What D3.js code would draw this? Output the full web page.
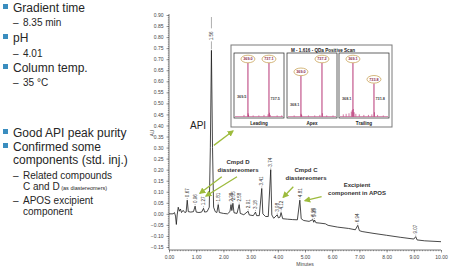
<!DOCTYPE html>
<html lang="en">
<head>
<meta charset="utf-8">
<title>Chromatogram with QDa inset</title>
<script src="https://d3js.org/d3.v7.min.js"></script>
<style>
  body { margin: 0; background: #fff; }
  svg { display: block; font-family: "Liberation Sans", Arial, sans-serif; }
</style>
</head>
<body>
<script>
// ---- data ----
var notesTop = [["b", "Gradient time"], ["d", "8.35 min"], ["b", "pH"], ["d", "4.01"], ["b", "Column temp."], ["d", "35 °C"]];
var notesBottom = [["b", "Good API peak purity"], ["b", "Confirmed some"], ["c", "components (std. inj.)"],
                   ["d", "Related compounds"], ["e", "C and D"], ["d", "APOS excipient"], ["e", "component"]];

var xTicks = [0, 1, 2, 3, 4, 5, 6, 7, 8, 9, 10];
var yTicks = [0.90, 0.85, 0.80, 0.75, 0.70, 0.65, 0.60, 0.55, 0.50, 0.45, 0.40, 0.35, 0.30, 0.25, 0.20, 0.15, 0.10, 0.05, 0.00, -0.05, -0.10, -0.15];

// chromatogram trace [minutes, AU]
var trace = [
  [0.00, 0.000], [0.15, 0.000], [0.20, 0.006], [0.24, -0.010], [0.27, -0.048], [0.30, -0.005], [0.34, 0.030],
  [0.38, 0.012], [0.42, 0.022], [0.46, 0.006], [0.52, 0.016], [0.58, 0.006], [0.63, 0.008], [0.67, 0.062],
  [0.71, 0.010], [0.80, 0.008], [0.90, 0.010], [0.96, 0.035], [1.00, 0.008], [1.10, 0.006], [1.20, 0.008],
  [1.27, 0.025], [1.31, 0.008], [1.40, 0.010], [1.48, 0.030], [1.52, 0.300], [1.56, 0.740], [1.60, 0.300],
  [1.64, 0.030], [1.70, 0.010], [1.76, 0.006], [1.81, 0.042], [1.85, 0.006], [2.00, 0.002], [2.15, 0.000],
  [2.24, 0.010], [2.28, 0.042], [2.31, 0.015], [2.35, 0.048], [2.39, 0.005], [2.50, 0.002], [2.58, 0.042],
  [2.62, 0.002], [2.75, -0.004], [2.91, 0.012], [2.95, -0.005], [3.10, -0.008], [3.18, 0.008], [3.22, -0.008],
  [3.32, -0.008], [3.41, 0.115], [3.45, 0.000], [3.55, -0.012], [3.65, -0.012], [3.74, 0.200], [3.78, -0.005],
  [3.85, -0.020], [3.98, -0.004], [4.02, -0.018], [4.08, -0.015], [4.12, 0.006], [4.18, -0.022], [4.35, -0.024],
  [4.55, -0.026], [4.72, -0.027], [4.81, 0.062], [4.86, -0.022], [4.95, -0.030], [5.15, -0.034], [5.29, -0.026],
  [5.32, -0.038], [5.35, -0.028], [5.40, -0.040], [5.55, -0.042], [5.75, -0.045], [5.85, -0.052], [6.20, -0.060],
  [6.60, -0.066], [6.85, -0.072], [6.94, -0.052], [7.00, -0.076], [7.10, -0.080], [7.50, -0.088], [8.00, -0.097],
  [8.50, -0.106], [9.00, -0.114], [9.07, -0.103], [9.12, -0.118], [9.40, -0.122], [10.00, -0.126]
];
var peakTimes = [0.67, 0.96, 1.27, 1.56, 1.81, 2.28, 2.35, 2.58, 2.91, 3.18, 3.41, 3.74, 3.98, 4.12, 4.81, 5.29, 5.35, 6.94, 9.07];

// mass spectra inset: [m/z, relative intensity]
var msPanels = ["Leading", "Apex", "Trailing"];
var leadingSticks = [[369.0, 100], [737.1, 100], [300, 3], [372, 6], [380, 3], [460, 2], [560, 2], [650, 3], [720, 4], [745, 7], [760, 3], [880, 2], [960, 2]];
var apexSticks = [[369.0, 76], [737.2, 100], [250, 2], [372, 5], [382, 3], [500, 2], [610, 2], [700, 3], [745, 6], [820, 2], [930, 2]];
var trailingSticks = [[369.1, 100], [737.0, 62], [200, 4], [250, 5], [300, 6], [340, 9], [355, 12], [375, 14], [390, 8], [420, 5], [480, 4], [560, 3], [640, 3], [700, 4], [745, 8], [800, 3], [900, 2]];
var leadingTags = [[369.0, 100, "369.0", "o"], [737.1, 100, "737.1", "o"], [369.0, 34, "369.5", "l"], [737.1, 30, "737.5", "r"]];
var apexTags = [[369.0, 76, "369.0", "o"], [737.2, 100, "737.2", "o"], [369.0, 20, "368.1", "l"]];
var trailingTags = [[369.1, 100, "369.1", "o"], [737.0, 62, "733.8", "o"], [369.1, 30, "368.1", "l"], [737.0, 30, "731.8", "r"]];

// ---- drawing ----
var w = 451, h = 269;
var svg = d3.select("body").append("svg").attr("width", w).attr("height", h);

var textCol = "#262626";
var bulletCol = "#3a8dbf";

// left notes
function drawNotes(list, baselines) {
  list.forEach(function(d, i) {
    var yy = baselines[i];
    var big = d[0] === "b" || d[0] === "c";
    if (d[0] === "b") {
      svg.append("rect").attr("x", 3).attr("y", yy - 8).attr("width", 5).attr("height", 5).attr("fill", bulletCol);
    }
    if (d[0] === "d") {
      svg.append("text").attr("x", 13).attr("y", yy).attr("font-size", 10).attr("fill", textCol).text("–");
    }
    var t = svg.append("text")
      .attr("x", big ? 13 : 23)
      .attr("y", yy)
      .attr("font-size", big ? 12 : 10)
      .attr("fill", textCol)
      .text(d[1]);
    if (d[1] === "C and D") {
      t.append("tspan").attr("font-size", 5.5).text(" (as diastereomers)");
    }
  });
}
drawNotes(notesTop, [12, 26, 42, 57, 72, 86]);
drawNotes(notesBottom, [137, 151, 164, 179, 190, 204, 215]);

// scales
var x = d3.scaleLinear().domain([0, 10]).range([169, 441]);
var y = d3.scaleLinear().domain([-0.15, 0.90]).range([247, 15]);
var axisCol = "#555";

// y axis
var yAxis = d3.axisLeft(y).tickValues(yTicks).tickFormat(d3.format(".2f")).tickSize(2.5).tickSizeOuter(0);
var gy = svg.append("g").attr("transform", "translate(169,0)").call(yAxis);
var yMinor = d3.axisLeft(y).tickValues(d3.range(-15, 91, 1).map(function(v) { return v / 100; })).tickFormat("").tickSize(1.2).tickSizeOuter(0);
svg.append("g").attr("transform", "translate(169,0)").call(yMinor).select(".domain").remove();
gy.select(".domain").remove();
svg.append("line").attr("x1", 169).attr("x2", 169).attr("y1", 14).attr("y2", 250).attr("stroke", axisCol).attr("stroke-width", 0.8);

// x axis
var xAxis = d3.axisBottom(x).tickValues(xTicks).tickFormat(d3.format(".2f")).tickSize(2.5).tickSizeOuter(0);
var gx = svg.append("g").attr("transform", "translate(0,250)").call(xAxis);
var xMinor = d3.axisBottom(x).tickValues(d3.range(0, 101, 1).map(function(v) { return v / 10; })).tickFormat("").tickSize(1.2).tickSizeOuter(0);
svg.append("g").attr("transform", "translate(0,250)").call(xMinor).select(".domain").remove();
gx.select(".domain").remove();
svg.append("line").attr("x1", 169).attr("x2", 441).attr("y1", 250).attr("y2", 250).attr("stroke", axisCol).attr("stroke-width", 0.8);

svg.selectAll(".tick line").attr("stroke", axisCol).attr("stroke-width", 0.6);
svg.selectAll(".tick text").attr("font-size", 5).attr("fill", "#444").attr("font-family", "Liberation Sans, Arial, sans-serif");
gx.selectAll(".tick text").attr("dy", "0.71em");

svg.append("text").attr("x", 305).attr("y", 266).attr("text-anchor", "middle")
  .attr("font-size", 5).attr("fill", "#444").text("Minutes");
svg.append("text").attr("transform", "translate(154,133) rotate(-90)").attr("text-anchor", "middle")
  .attr("font-size", 5).attr("fill", "#444").text("AU");

// trace
var line = d3.line().x(function(d) { return x(d[0]); }).y(function(d) { return y(d[1]); });
svg.append("path").datum(trace).attr("d", line)
  .attr("fill", "none").attr("stroke", "#1a1a1a").attr("stroke-width", 0.8).attr("stroke-linejoin", "round");

// peak labels
peakTimes.forEach(function(t) {
  var apex = trace.find(function(p) { return p[0] === t; });
  var px = x(t), py = y(apex[1]);
  var lift = t === 1.56 ? 9 : 2;
  svg.append("line").attr("x1", px).attr("x2", px).attr("y1", py - 1).attr("y2", py - lift)
    .attr("stroke", "#333").attr("stroke-width", 0.4);
  svg.append("text")
    .attr("transform", "translate(" + (px + 1.7) + "," + (py - lift - 1) + ") rotate(-90)")
    .attr("font-size", 4.6).attr("fill", "#333")
    .text(t.toFixed(2));
  if (t === 1.56) {
    svg.append("line").attr("x1", px).attr("x2", px).attr("y1", py - lift - 13).attr("y2", 17)
      .attr("stroke", "#333").attr("stroke-width", 0.4);
  }
});

// ---- inset: mass spectra ----
svg.append("rect").attr("x", 231).attr("y", 45).attr("width", 161).attr("height", 82)
  .attr("fill", "#fff").attr("stroke", "#7a7a7a").attr("stroke-width", 1);
svg.append("text").attr("x", 323).attr("y", 51.5).attr("text-anchor", "middle")
  .attr("font-size", 4.6).attr("font-weight", "bold").attr("fill", "#222").text("M - 1.616 - QDa Positive Scan");

var panelX = [234, 287, 339];
var sticksList = [leadingSticks, apexSticks, trailingSticks];
var tagsList = [leadingTags, apexTags, trailingTags];
var magenta = "#b01f66";

msPanels.forEach(function(name, i) {
  var x0 = panelX[i], pw = 50, top = 53, bottom = 118;
  var mz = d3.scaleLinear().domain([125, 1000]).range([x0, x0 + pw]);
  var inten = d3.scaleLinear().domain([0, 100]).range([bottom - 1.5, top + 10]);
  var g = svg.append("g");
  g.append("rect").attr("x", x0).attr("y", top).attr("width", pw).attr("height", bottom - top)
    .attr("fill", "#fff").attr("stroke", "#222").attr("stroke-width", 0.7);
  g.append("line").attr("x1", x0 + 1).attr("x2", x0 + pw - 1).attr("y1", inten(0)).attr("y2", inten(0))
    .attr("stroke", magenta).attr("stroke-width", 0.7).attr("opacity", 0.7);
  g.selectAll("line.stick").data(sticksList[i]).enter().append("line")
    .attr("class", "stick")
    .attr("x1", function(d) { return mz(d[0]); })
    .attr("x2", function(d) { return mz(d[0]); })
    .attr("y1", inten(0))
    .attr("y2", function(d) { return inten(d[1]); })
    .attr("stroke", magenta)
    .attr("stroke-width", function(d) { return d[1] > 50 ? 0.9 : 0.6; });
  tagsList[i].forEach(function(d) {
    var tx = mz(d[0]), ty = inten(d[1]);
    if (d[3] === "o") {
      g.append("ellipse").attr("cx", tx).attr("cy", ty - 4).attr("rx", 7).attr("ry", 3.8)
        .attr("fill", "#fff").attr("stroke", "#c9a45a").attr("stroke-width", 0.8);
      g.append("text").attr("x", tx).attr("y", ty - 2.6).attr("text-anchor", "middle")
        .attr("font-size", 3.8).attr("font-weight", "bold").attr("fill", "#8c1f4e").text(d[2]);
    } else {
      g.append("text").attr("x", d[3] === "l" ? tx - 1.5 : tx + 1.5).attr("y", ty)
        .attr("text-anchor", d[3] === "l" ? "end" : "start")
        .attr("font-size", 3.8).attr("font-weight", "bold").attr("fill", "#444").text(d[2]);
    }
  });
  g.append("text").attr("x", x0 + pw / 2).attr("y", 124.5).attr("text-anchor", "middle")
    .attr("font-size", 4.6).attr("font-weight", "bold").attr("fill", "#222").text(name);
});

// ---- annotations ----
var green = "#9dbb3d";
svg.append("defs").append("marker")
  .attr("id", "head").attr("viewBox", "0 0 10 10").attr("refX", 8).attr("refY", 5)
  .attr("markerWidth", 5).attr("markerHeight", 5).attr("orient", "auto")
  .append("path").attr("d", "M0,0 L10,5 L0,10 z").attr("fill", green);

function arrow(t1, a1, t2, a2) {
  svg.append("line")
    .attr("x1", x(t1)).attr("y1", y(a1)).attr("x2", x(t2)).attr("y2", y(a2))
    .attr("stroke", green).attr("stroke-width", 1.3).attr("marker-end", "url(#head)");
}
arrow(1.65, 0.31, 2.35, 0.375);
arrow(1.94, 0.168, 1.14, 0.093);
arrow(2.50, 0.168, 1.36, 0.081);
arrow(4.57, 0.123, 4.20, 0.075);
arrow(5.61, 0.078, 5.00, 0.060);

svg.append("text").attr("x", 190).attr("y", 129).attr("font-size", 10).attr("fill", "#222").text("API");

function note(cx, cy, lines) {
  lines.forEach(function(s, i) {
    svg.append("text").attr("x", cx).attr("y", cy + i * 7.5).attr("text-anchor", "middle")
      .attr("font-size", 6).attr("font-weight", "bold").attr("fill", "#333").text(s);
  });
}
note(238, 164, ["Cmpd  D", "diastereomers"]);
note(306, 172, ["Cmpd  C", "diastereomers"]);
note(357, 187, ["Excipient", "component in APOS"]);
</script>
</body>
</html>
